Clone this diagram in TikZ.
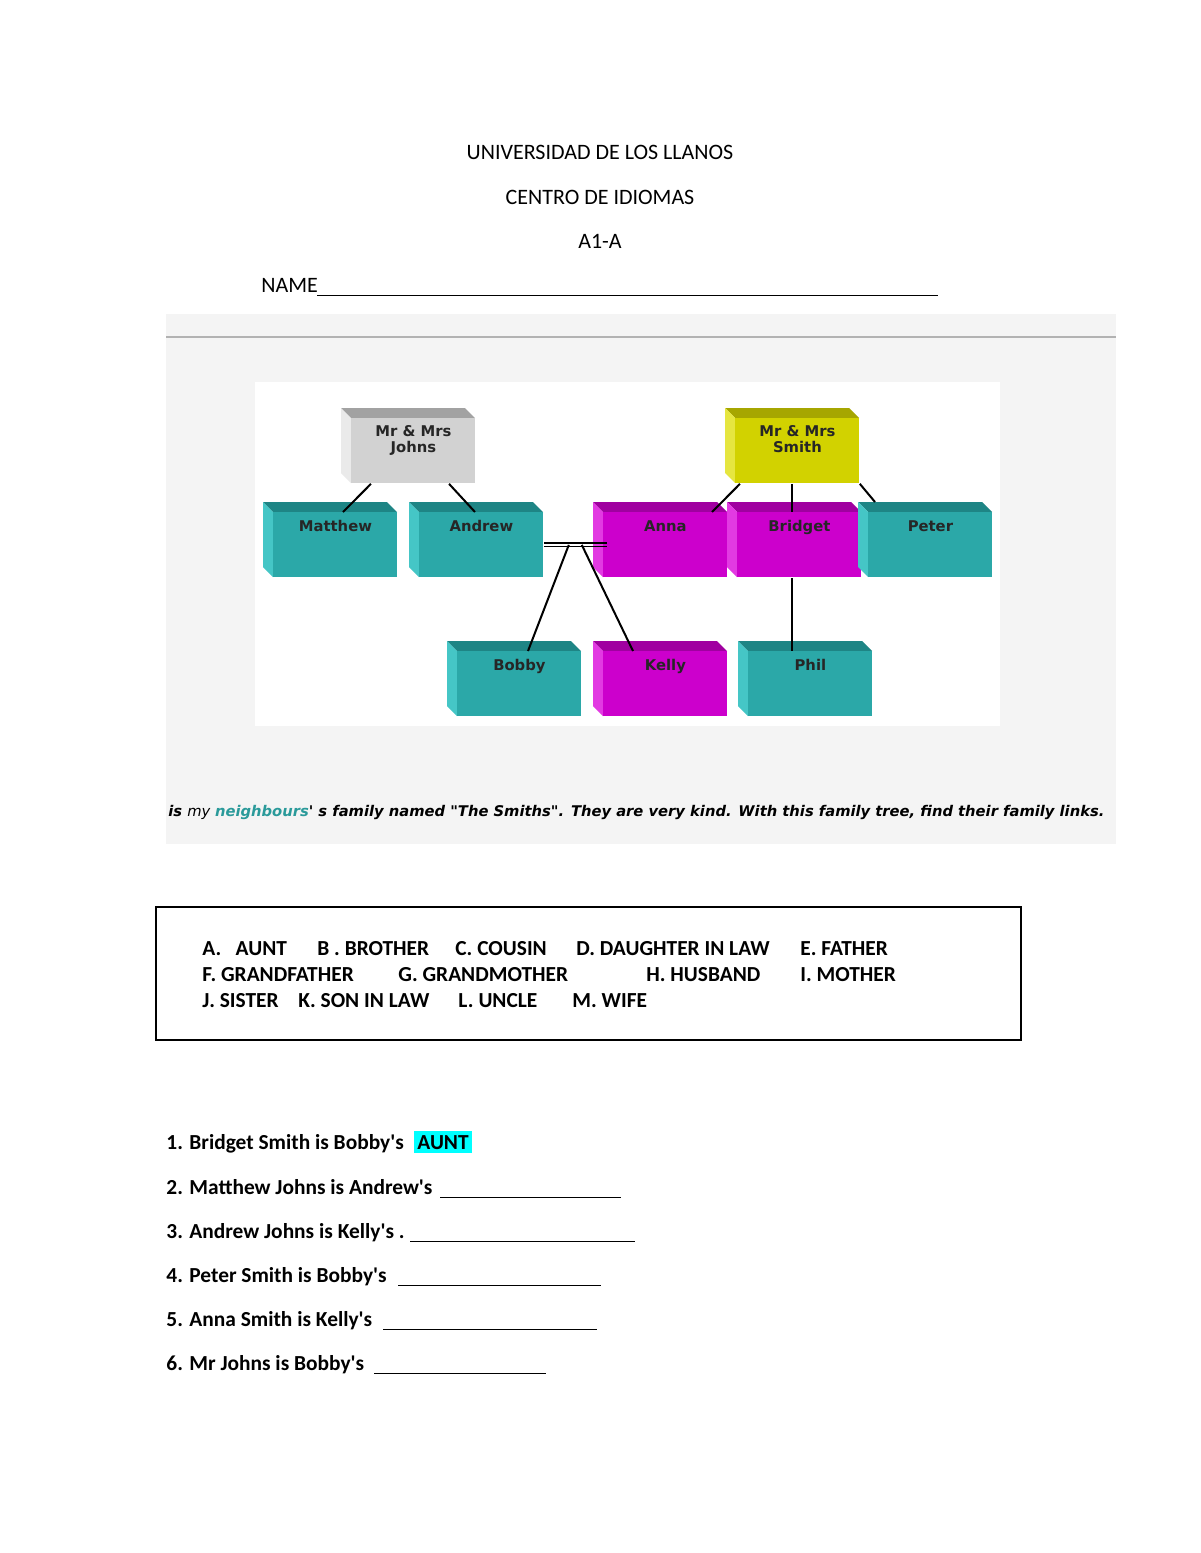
\documentclass[tikz,border=0pt]{standalone}
\usepackage{fontspec}
\usepackage{graphicx}
\setmainfont{Carlito}
\newfontfamily\boxfont{DejaVu Sans}
\usetikzlibrary{calc}
\definecolor{tealF}{HTML}{2BA8A8}\definecolor{tealT}{HTML}{1E8585}\definecolor{tealL}{HTML}{45C6C6}
\definecolor{magF}{HTML}{CC00CC}\definecolor{magT}{HTML}{A000A0}\definecolor{magL}{HTML}{E23AE2}
\definecolor{yelF}{HTML}{D2D200}\definecolor{yelT}{HTML}{A6A600}\definecolor{yelL}{HTML}{E6E640}
\definecolor{gryF}{HTML}{D2D2D2}\definecolor{gryT}{HTML}{A2A2A2}\definecolor{gryL}{HTML}{EAEAEA}
\definecolor{panel}{HTML}{F4F4F4}
\definecolor{nbr}{HTML}{2A9A9A}
\definecolor{aqua}{HTML}{00FFFF}
\newcommand\ap{\textquotesingle}
\newcommand\famcube[6]{% name, x, y (outer top-left), colour prefix, label, label offset
  \fill[#4T] (#2,#3) -- ++(124,0) -- ++(10,10) -- ++(-124,0) -- cycle;
  \fill[#4L] (#2,#3) -- ++(10,10) -- ++(0,65) -- ++(-10,-10) -- cycle;
  \node[cubeface, fill=#4F] (#1) at (#2+10,#3+10) {};
  \node[cubelabel] at ($(#1.north)+(0,#6)$) {#5};
}
\tikzset{
  cubeface/.style={anchor=north west, minimum width=62pt, minimum height=32.5pt, inner sep=0pt, draw=none},
  cubelabel/.style={font=\boxfont\bfseries\fontsize{7.4pt}{8.2pt}\selectfont, text=black!85, align=center, anchor=north, inner sep=0pt},
  link/.style={line width=1pt, black},
  hdr/.style={font=\fontsize{11pt}{13pt}\selectfont, anchor=base},
  qtext/.style={font=\bfseries\fontsize{10.7pt}{12pt}\selectfont, anchor=base west, inner sep=0pt},
  blank/.style={line width=0.5pt}
}
\begin{document}
\begin{tikzpicture}[x=0.5pt,y=-0.5pt]
\useasboundingbox (0,0) rectangle (1200,1553);
\fill[white] (0,0) rectangle (1200,1553);
% header
\node[hdr] (h1) at (600,159) {UNIVERSIDAD DE LOS LLANOS};
\node[hdr] (h2) at (600,204) {CENTRO DE IDIOMAS};
\node[hdr] (h3) at (600,248) {A1-A};
\node[hdr, anchor=base west, inner sep=0pt] (nm) at (261,292) {NAME};
\draw[blank] (317,295) -- (938,295);
% panel
\fill[panel] (166,314) rectangle (1116,844);
\draw[gray!60, line width=1pt] (166,337) -- (1116,337);
\fill[white] (255,382) rectangle (1000,726);
% cubes
\famcube{johns}{341}{408}{gry}{Mr \& Mrs\\Johns}{7}
\famcube{smith}{725}{408}{yel}{Mr \& Mrs\\Smith}{7}
\famcube{matthew}{263}{502}{teal}{Matthew}{8}
\famcube{andrew}{409}{502}{teal}{Andrew}{8}
\famcube{anna}{593}{502}{mag}{Anna}{8}
\famcube{bridget}{727}{502}{mag}{Bridget}{8}
\famcube{peter}{858}{502}{teal}{Peter}{8}
\famcube{bobby}{447}{641}{teal}{Bobby}{8}
\famcube{kelly}{593}{641}{mag}{Kelly}{8}
\famcube{phil}{738}{641}{teal}{Phil}{8}
% connectors
\draw[link] ($(johns.south west)+(20,0)$) -- ($(matthew.north west)+(70,0)$);
\draw[link] ($(johns.south west)+(98,0)$) -- ($(andrew.north west)+(56,0)$);
\draw[link] ($(smith.south west)+(5,0)$) -- ($(anna.north west)+(109,0)$);
\draw[link] ($(smith.south west)+(57,0)$) -- ($(bridget.north west)+(55,0)$);
\draw[link] ($(smith.south east)+(0,0)$) -- ($(peter.north west)+(7,-10)$);
\draw[line width=0.8pt] ($(andrew.east)+(0,-2)$) -- ($(anna.west)+(4,-2)$);
\draw[line width=0.8pt] ($(andrew.east)+(0,1.5)$) -- ($(anna.west)+(4,1.5)$);
\coordinate (mid1) at ($(andrew.east)+(25,0)$);
\coordinate (mid2) at ($(andrew.east)+(38,0)$);
\draw[link] (mid1) -- ($(bobby.north west)+(71,0)$);
\draw[link] (mid2) -- ($(kelly.north west)+(30,0)$);
\draw[link] ($(bridget.south west)+(55,0)$) -- ($(phil.north west)+(44,0)$);
% caption
\node[anchor=base west, inner sep=0pt] (cap) at (168,816) {\resizebox{468pt}{!}{\boxfont\itshape\bfseries is {\mdseries my }{\color{nbr}neighbours}' s family named "The Smiths". They are very kind. With this family tree, find their family links.}};
% options box
\draw[line width=1.2pt] (156,907) rectangle (1021,1040);
\foreach \t/\x/\y in {{A.\ \ \ AUNT}/202/955, {B . BROTHER}/317/955, {C. COUSIN}/455/955, {D. DAUGHTER IN LAW}/576/955, {E. FATHER}/800/955,
  {F. GRANDFATHER}/202/981, {G. GRANDMOTHER}/398/981, {H. HUSBAND}/646/981, {I. MOTHER}/800/981,
  {J. SISTER}/202/1007, {K. SON IN LAW}/298/1007, {L. UNCLE}/458/1007, {M. WIFE}/572/1007}
  \node[qtext] at (\x,\y) {\t};
% questions
\node[qtext] (q1) at (166,1149) {1. Bridget Smith is Bobby\ap s};
\node[qtext, fill=aqua, inner xsep=1.5pt, inner ysep=2pt, anchor=base west] (ans) at (414,1149) {AUNT};
\node[qtext] (q2) at (166,1194) {2. Matthew Johns is Andrew\ap s};
\draw[blank] (440,1197) -- (621,1197);
\node[qtext] (q3) at (166,1238) {3. Andrew Johns is Kelly\ap s .};
\draw[blank] (410,1241) -- (635,1241);
\node[qtext] (q4) at (166,1282) {4. Peter Smith is Bobby\ap s};
\draw[blank] (398,1285) -- (601,1285);
\node[qtext] (q5) at (166,1326) {5. Anna Smith is Kelly\ap s};
\draw[blank] (383,1329) -- (597,1329);
\node[qtext] (q6) at (166,1370) {6. Mr Johns is Bobby\ap s};
\draw[blank] (374,1373) -- (546,1373);
\end{tikzpicture}
\end{document}
